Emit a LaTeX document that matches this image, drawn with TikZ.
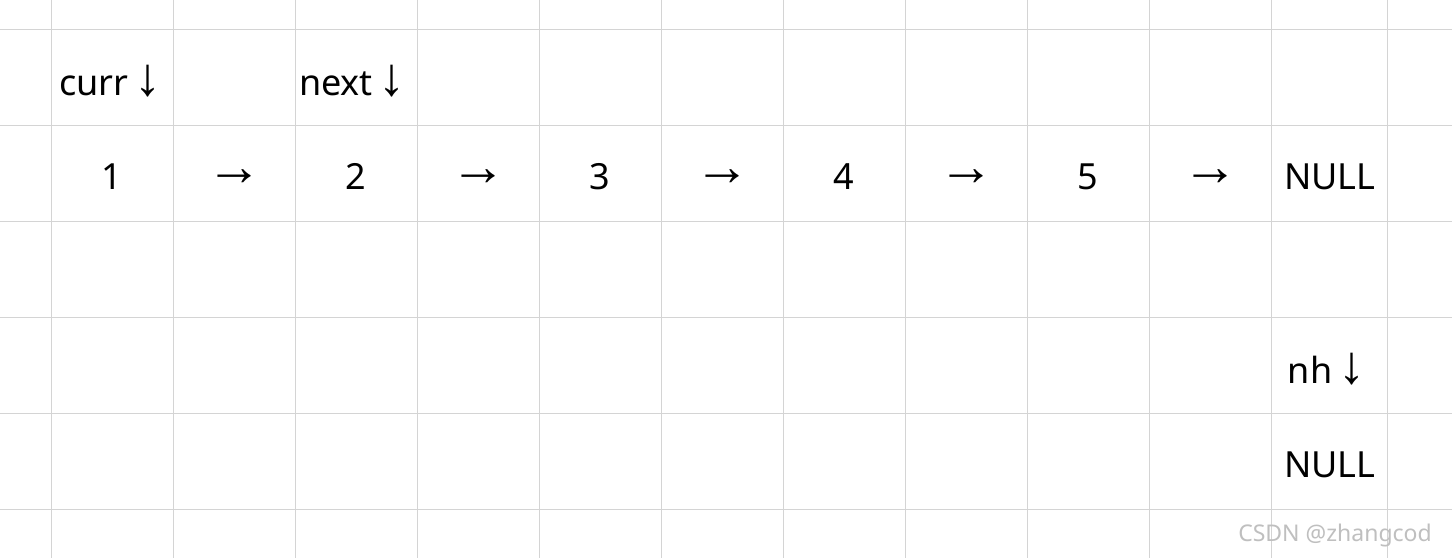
\documentclass[tikz,border=0pt]{standalone}
\usepackage{fontspec}
\setmainfont{Noto Sans}
\newfontfamily\arrowfont{Liberation Serif}
\newcommand{\dnarrow}{{\arrowfont\fontsize{54}{58}\selectfont ↓}}
\begin{document}
\begin{tikzpicture}[x=1pt,y=-1pt,
  gridline/.style={draw=black!17,line width=0.8pt},
  cell/.style={font=\fontsize{36}{40}\selectfont,inner sep=0pt,anchor=base},
  arr/.style={font=\arrowfont\fontsize{56}{60}\selectfont,inner sep=0pt,anchor=base},
  wm/.style={font=\fontsize{23}{26}\selectfont,text=black!25,inner sep=0pt,anchor=base}]
\useasboundingbox (0,0) rectangle (1452,558);
\fill[white] (0,0) rectangle (1452,558);
\foreach \x in {51,173,295,417,539,661,783,905,1027,1149,1271,1387}
  \draw[gridline] (\x,0) -- (\x,558);
\foreach \y in {29,125,221,317,413,509}
  \draw[gridline] (0,\y) -- (1452,\y);
% pointer labels
\node[cell] (curr) at (110.5,95) {curr\,\dnarrow};
\node[cell] (next) at (352.5,95) {next\,\dnarrow};
\node[cell] (nh) at (1326.5,383) {nh\,\dnarrow};
% list
\node[cell] (n1) at (112,189) {1};
\node[arr] (a1) at (234,185) {→};
\node[cell] (n2) at (356,189) {2};
\node[arr] (a2) at (478,185) {→};
\node[cell] (n3) at (600,189) {3};
\node[arr] (a3) at (722,185) {→};
\node[cell] (n4) at (844,189) {4};
\node[arr] (a4) at (966,185) {→};
\node[cell] (n5) at (1088,189) {5};
\node[arr] (a5) at (1210,185) {→};
\node[cell] (null1) at (1330,189) {NULL};
\node[cell] (null2) at (1330,477) {NULL};
\node[wm] (wmark) at (1335,541) {CSDN @zhangcod};
\end{tikzpicture}
\end{document}
